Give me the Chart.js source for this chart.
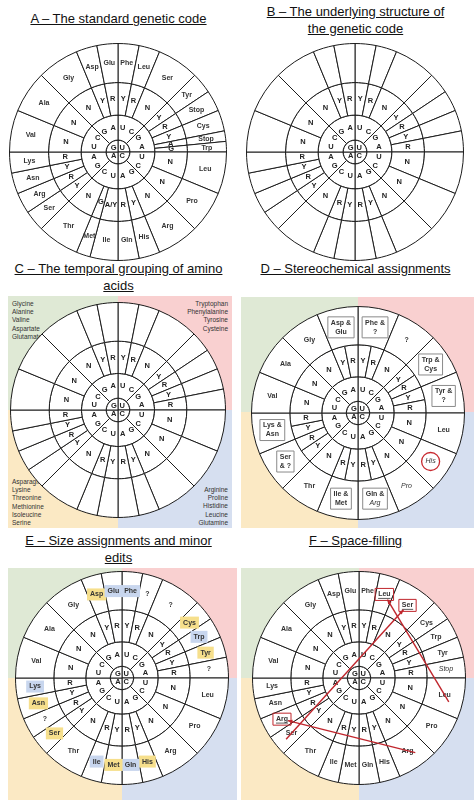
<!DOCTYPE html>
<html>
<head>
<meta charset="utf-8">
<script src="https://cdn.jsdelivr.net/npm/chart.js@4"></script>
<style>
  body { margin: 0; background: #fff; font-family: "Liberation Sans", Arial, sans-serif; }
  #page { position: relative; width: 474px; height: 801px; overflow: hidden; }
  .title { position: absolute; text-align: center; font-size: 13px; line-height: 17px; text-decoration: underline; color: #111; }
  .wheel { position: absolute; width: 220px; height: 220px; }
  .bg { position: absolute; }
  .corner { position: absolute; font-size: 6.5px; line-height: 8.2px; color: #333; }
</style>
</head>
<body>
<div id="page">
  <div class="title" style="left:0;top:10px;width:237px">A – The standard genetic code</div>
  <div class="title" style="left:237px;top:3px;width:237px">B – The underlying structure of<br>the genetic code</div>
  <div class="title" style="left:0;top:260px;width:237px">C – The temporal grouping of amino<br>acids</div>
  <div class="title" style="left:237px;top:260px;width:237px">D – Stereochemical assignments</div>
  <div class="title" style="left:0;top:532px;width:237px">E – Size assignments and minor<br>edits</div>
  <div class="title" style="left:237px;top:532px;width:237px">F – Space-filling</div>
</div>
<script>
/* ============================================================
   DATA
============================================================ */

// centre: first base, clockwise from 12 o'clock
const firstBases = ["U", "C", "A", "G"];
const firstWidths = [90, 90, 90, 90];

// second base, 4 per quadrant (drawn as 8 cells of two letters)
const secondBases = ["U","C","G","A", "U","C","G","A", "U","C","G","A", "U","C","G","A"];
const secondPairs = [];
for (let i = 0; i < secondBases.length; i += 2) secondPairs.push(secondBases[i] + "|" + secondBases[i + 1]);
const secondPairWidths = secondPairs.map(() => 45);
const secondWidths = secondBases.map(() => 22.5);

// third base, panel A (the real code)
const thirdA = ["Y","R","N","Y","R","Y","A","G", "N","N","N","Y","R", "A/Y","G","N","Y","R","Y","R", "N","N","N","Y","R"];
const thirdAWidths = [11.25,11.25,22.5,11.25,11.25,11.25,5.625,5.625, 22.5,22.5,22.5,11.25,11.25, 15,7.5,22.5,11.25,11.25,11.25,11.25, 22.5,22.5,22.5,11.25,11.25];
const aminoA = ["Phe","Leu","Ser","Tyr","Stop","Cys","Stop","Trp", "Leu","Pro","Arg","His","Gln", "Ile","Met","Thr","Ser","Arg","Asn","Lys", "Val","Ala","Gly","Asp","Glu"];

// third base, panels B-F (underlying structure)
const thirdB = ["Y","R","N","Y","R","Y","R", "N","N","N","Y","R", "Y","R","N","Y","R","Y","R", "N","N","N","Y","R"];
const thirdBWidths = thirdB.map(b => b === "N" ? 22.5 : 11.25);

// panel D: one label per second-base block
const aminoD = ["Phe &\n?","?","Trp &\nCys","Tyr &\n?", "Leu","His","Pro","Gln &\nArg", "Ile &\nMet","Thr","Ser\n& ?","Lys &\nAsn", "Val","Ala","Gly","Asp &\nGlu"];
const boxedD = [1,0,1,1, 0,0,0,1, 1,0,1,1, 0,0,0,1];
const italicD = ["","","","", "","His","Pro","Arg", "","","","", "","","",""];

// panel E: size groups (y = large, b = small)
const aminoE = ["Phe","?","?","Cys","Trp","Tyr","?", "Leu","Pro","Arg","His","Gln", "Met","Ile","Thr","Ser","?","Asn","Lys", "Val","Ala","Gly","Asp","Glu"];
const sizeE = ["b","","","y","b","y","", "","","","y","b", "y","b","","y","","y","b", "","","","y","b"];

// panel F
const aminoF = ["Phe","Leu","Ser","Cys","Trp","Tyr","Stop", "Leu","Pro","Arg","His","Gln", "Met","Ile","Thr","Ser","Arg","Asn","Lys", "Val","Ala","Gly","Asp","Glu"];
const movedF = [1, 2, 16];      // boxed targets
const moveFromF = [7, 15, 9];   // where they moved from

// panel C corner lists
const earlyGreen = ["Glycine","Alanine","Valine","Aspartate","Glutamate"];
const earlyRed = ["Tryptophan","Phenylalanine","Tyrosine","Cysteine"];
const lateYellow = ["Asparagine","Lysine","Threonine","Methionine","Isoleucine","Serine"];
const lateBlue = ["Arginine","Proline","Histidine","Leucine","Glutamine"];

/* ============================================================
   PAGE SETUP
============================================================ */

const page = document.getElementById("page");
const QUAD = { g: "#dfe9d5", r: "#f9d0d0", y: "#fbe9c4", b: "#d6dff0" };

function quadrants(x0, x1, x2, y0, y1, y2) {
    [[x0, y0, x1, y1, QUAD.g], [x1, y0, x2, y1, QUAD.r], [x0, y1, x1, y2, QUAD.y], [x1, y1, x2, y2, QUAD.b]]
        .forEach(q => {
            const d = document.createElement("div");
            d.className = "bg";
            d.style.cssText = `left:${q[0]}px;top:${q[1]}px;width:${q[2]-q[0]}px;height:${q[3]-q[1]}px;background:${q[4]}`;
            page.appendChild(d);
        });
}
quadrants(8, 118, 232, 296, 410, 528);
quadrants(241, 358, 474, 297, 412, 528);
quadrants(8, 122, 237, 568, 678, 800);
quadrants(241, 359, 474, 568, 678, 800);

function corner(list, x, y, right) {
    const d = document.createElement("div");
    d.className = "corner";
    d.style.cssText = right ? `right:${474 - x}px;top:${y}px;text-align:right` : `left:${x}px;top:${y}px`;
    d.innerHTML = list.join("<br>");
    page.appendChild(d);
}
corner(earlyGreen, 12, 300, false);
corner(earlyRed, 228, 300, true);
corner(lateYellow, 12, 478, false);
corner(lateBlue, 228, 486, true);

/* ============================================================
   LABEL PLUGIN
============================================================ */

function roundBox(ctx, x, y, w, h, fill, stroke) {
    ctx.beginPath();
    ctx.rect(x, y, w, h);
    if (fill) { ctx.fillStyle = fill; ctx.fill(); }
    if (stroke) { ctx.strokeStyle = stroke; ctx.lineWidth = 1; ctx.stroke(); }
}

function arcProps(el) {
    return el.getProps(["x", "y", "startAngle", "endAngle", "innerRadius", "outerRadius"], true);
}

function labelPos(el, frac) {
    const p = arcProps(el);
    const f = frac === undefined ? 0.5 : frac;
    const a = p.startAngle + (p.endAngle - p.startAngle) * f;
    const r = p.innerRadius === 0 ? p.outerRadius * 0.5 : (p.innerRadius + p.outerRadius) / 2;
    return { x: p.x + Math.cos(a) * r, y: p.y + Math.sin(a) * r };
}

const labelPlugin = {
    id: "ringLabels",
    afterDatasetsDraw(chart) {
        const ctx = chart.ctx;
        ctx.save();
        ctx.textAlign = "center";
        ctx.textBaseline = "middle";
        chart.data.datasets.forEach((ds, i) => {
            if (!ds.txt) return;
            const meta = chart.getDatasetMeta(i);
            meta.data.forEach((el, j) => {
                const t = ds.txt[j];
                if (!t) return;
                const fs = ds.fs || 7;
                if (t.includes("|")) {
                    // two letters in one cell
                    ctx.font = `bold ${fs}px "Liberation Sans", Arial, sans-serif`;
                    ctx.fillStyle = "#222";
                    t.split("|").forEach((l, k) => {
                        const p = labelPos(el, k === 0 ? 0.25 : 0.75);
                        ctx.fillText(l, p.x, p.y);
                    });
                    return;
                }
                const pos = labelPos(el);
                const lines = t.split("\n");
                const lh = fs + 2;
                const deco = ds.deco ? ds.deco(j) : {};
                ctx.font = `bold ${fs}px "Liberation Sans", Arial, sans-serif`;
                const w = Math.max(...lines.map(l => ctx.measureText(l).width));
                const h = lines.length * lh;
                if (deco.fill || deco.stroke) {
                    roundBox(ctx, pos.x - w / 2 - 3, pos.y - h / 2 - 1.5, w + 6, h + 3, deco.fill, deco.stroke);
                }
                if (deco.circle) {
                    ctx.beginPath();
                    ctx.arc(pos.x, pos.y, 9, 0, Math.PI * 2);
                    ctx.strokeStyle = "#c8282e";
                    ctx.lineWidth = 1.3;
                    ctx.stroke();
                }
                lines.forEach((l, k) => {
                    const it = deco.italic && (deco.italic === true || l.includes(deco.italic));
                    ctx.font = `${it ? "italic " : "bold "}${fs}px "Liberation Sans", Arial, sans-serif`;
                    ctx.fillStyle = ds.color || "#222";
                    const ly = pos.y - h / 2 + lh * (k + 0.5);
                    ctx.fillText(l, pos.x, ly);
                    if (deco.underline) {
                        const lw = ctx.measureText(l).width;
                        ctx.fillRect(pos.x - lw / 2, ly + fs / 2, lw, 0.8);
                    }
                });
            });
        });
        // arrows (panel F)
        const arrows = chart.options.plugins.ringLabels && chart.options.plugins.ringLabels.arrows;
        if (arrows) {
            const meta = chart.getDatasetMeta(0);
            arrows.from.forEach((f, k) => {
                const a = labelPos(meta.data[f]);
                const b = labelPos(meta.data[arrows.to[k]]);
                const ang = Math.atan2(b.y - a.y, b.x - a.x);
                const ex = b.x - Math.cos(ang) * 6, ey = b.y - Math.sin(ang) * 6;
                ctx.strokeStyle = "#c0262d";
                ctx.fillStyle = "#c0262d";
                ctx.lineWidth = 1.4;
                ctx.beginPath();
                ctx.moveTo(a.x - Math.cos(ang) * 8, a.y - Math.sin(ang) * 8);
                ctx.lineTo(ex, ey);
                ctx.stroke();
                ctx.beginPath();
                ctx.moveTo(ex, ey);
                ctx.lineTo(ex - Math.cos(ang - 0.4) * 5, ey - Math.sin(ang - 0.4) * 5);
                ctx.lineTo(ex - Math.cos(ang + 0.4) * 5, ey - Math.sin(ang + 0.4) * 5);
                ctx.closePath();
                ctx.fill();
            });
        }
        ctx.restore();
    }
};

/* ============================================================
   WHEELS
============================================================ */

function ring(data, txt, weight, extra) {
    return Object.assign({
        data, txt, weight,
        backgroundColor: "#fff",
        borderColor: "#1c1c1c",
        borderWidth: 1,
        borderAlign: "center",
        fs: 7.5
    }, extra || {});
}

function wheel(left, top, size, outerW, outerT, thirdW, thirdT, deco, arrows) {
    const box = document.createElement("div");
    box.className = "wheel";
    box.style.cssText = `left:${left}px;top:${top}px;width:${size}px;height:${size}px`;
    const cv = document.createElement("canvas");
    box.appendChild(cv);
    page.appendChild(box);

    new Chart(cv, {
        type: "doughnut",
        data: {
            labels: outerW.map((_, i) => i),
            datasets: [
                ring(outerW, outerT, 36, { fs: 7, color: "#333", deco }),
                ring(thirdW, thirdT, 30),
                ring(secondPairWidths, secondPairs, 23, { fs: 7.5 }),
                ring(firstWidths, firstBases, 11, { fs: 7.5 })
            ]
        },
        options: {
            responsive: true,
            maintainAspectRatio: false,
            animation: false,
            events: [],
            cutout: 0,
            layout: { padding: 1 },
            plugins: { legend: { display: false }, tooltip: { enabled: false }, ringLabels: { arrows } }
        },
        plugins: [labelPlugin]
    });
}

const blank = thirdB.map(() => "");

wheel(8, 42, 220, thirdAWidths, aminoA, thirdAWidths, thirdA);
wheel(245, 42, 220, thirdBWidths, blank, thirdBWidths, thirdB);
wheel(9, 301, 218, thirdBWidths, blank, thirdBWidths, thirdB);
wheel(250, 305, 216, secondWidths, aminoD, thirdBWidths, thirdB, j => ({
    fill: boxedD[j] ? "#fff" : null,
    stroke: boxedD[j] ? "#8a8a8a" : null,
    italic: italicD[j] || false,
    circle: aminoD[j] === "His"
}));
wheel(14, 570, 216, thirdBWidths, aminoE, thirdBWidths, thirdB, j => ({
    fill: sizeE[j] === "y" ? "#f6df8c" : sizeE[j] === "b" ? "#c8d6ee" : null
}));
wheel(251, 570, 216, thirdBWidths, aminoF, thirdBWidths, thirdB, j => ({
    stroke: movedF.includes(j) ? "#c0262d" : null,
    underline: movedF.includes(j),
    italic: aminoF[j] === "Stop"
}), { from: moveFromF, to: movedF });
</script>
</body>
</html>
